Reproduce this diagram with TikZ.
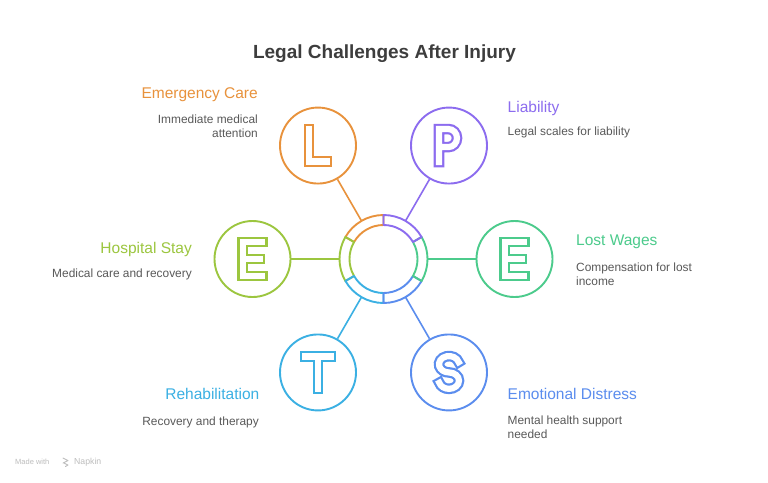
\documentclass[tikz,border=0pt]{standalone}
\usepackage{fontspec}
\setmainfont{Liberation Sans}
\usetikzlibrary{calc}
\definecolor{corange}{HTML}{E8923C}
\definecolor{cpurple}{HTML}{8C6CEF}
\definecolor{cgreen}{HTML}{4CCB8C}
\definecolor{cblue}{HTML}{5B8DEE}
\definecolor{ccyan}{HTML}{3BB0E3}
\definecolor{clime}{HTML}{9CC63F}
\definecolor{textgray}{HTML}{595959}
\definecolor{titlegray}{HTML}{3D3D3D}
\definecolor{footgray}{HTML}{BDBDBD}
\begin{document}
\begin{tikzpicture}[x=1pt,y=-1pt,
  circ/.style={circle, draw=#1, line width=1.9pt, minimum size=76pt, inner sep=0pt, fill=white},
  glyph/.style={draw=#1, double=white, line width=2.2pt, double distance=6.2pt, line cap=rect, line join=miter},
  spoke/.style={draw=#1, line width=1.6pt},
  seg/.style={draw=#1, line width=1.9pt, line join=round},
  head/.style={text=#1, font=\fontsize{15.5}{18}\selectfont, inner sep=0pt},
  desc/.style={text=textgray, font=\fontsize{11.9}{14}\selectfont, inner sep=0pt},
]
\fill[white] (0,0) rectangle (768,482);
\useasboundingbox (0,0) rectangle (768,482);

\node[font=\bfseries\fontsize{19}{22}\selectfont, text=titlegray, anchor=base, inner sep=0pt] (title) at (384.5,58.5) {Legal Challenges After Injury};

\coordinate (C) at (383.5,259);
\node[circle, minimum size=88pt, inner sep=0pt, outer sep=0pt] (ring) at (C) {};

\node[circ=corange] (L) at ($(C)+(-120:131)$) {};
\node[circ=cpurple] (P) at ($(C)+(-60:131)$) {};
\node[circ=cgreen] (ER) at ($(C)+(0:131)$) {};
\node[circ=cblue] (S) at ($(C)+(60:131)$) {};
\node[circ=ccyan] (T) at ($(C)+(120:131)$) {};
\node[circ=clime] (EL) at ($(C)+(180:131)$) {};

\draw[spoke=corange] (ring) -- (L);
\draw[spoke=cpurple] (ring) -- (P);
\draw[spoke=cgreen] (ring) -- (ER);
\draw[spoke=cblue] (ring) -- (S);
\draw[spoke=ccyan] (ring) -- (T);
\draw[spoke=clime] (ring) -- (EL);

\foreach \a/\b/\c in {-150/-90/corange, 150/210/clime, 90/150/ccyan, 30/90/cblue, -30/30/cgreen, -90/-30/cpurple}
  \draw[seg=\c, shift={(C)}] (\a:44) arc[start angle=\a, end angle=\b, radius=44] -- (\b:34) arc[start angle=\b, end angle=\a, radius=34] -- cycle;

% letters
\begin{scope}[shift={(L.center)}]
  \draw[glyph=corange] (-9,-16) -- (-9,16) -- (9,16);
\end{scope}
\begin{scope}[shift={(P.center)}]
  \draw[glyph=cpurple] (-10,16.5) -- (-10,-16.5) -- (-0.5,-16.5) arc[start angle=-90, end angle=90, x radius=8.5, y radius=9] -- (-10,1.5);
\end{scope}
\begin{scope}[shift={(ER.center)}]
  \draw[glyph=cgreen] (9.8,-17) -- (-9.8,-17) -- (-9.8,17) -- (9.8,17) (-9.8,0) -- (7.2,0);
\end{scope}
\begin{scope}[shift={(EL.center)}]
  \draw[glyph=clime] (9.8,-17) -- (-9.8,-17) -- (-9.8,17) -- (9.8,17) (-9.8,0) -- (7.2,0);
\end{scope}
\begin{scope}[shift={(T.center)}]
  \draw[glyph=ccyan] (-13,-16) -- (13,-16) (0,-16) -- (0,16);
\end{scope}
\begin{scope}[shift={(S.center)}]
  \draw[glyph=cblue] ($(0,-8.2)+(-15:10 and 8.2)$) arc[start angle=-15, end angle=-270, x radius=10, y radius=8.2] arc[start angle=-90, end angle=165, x radius=10, y radius=8.2];
\end{scope}

% texts
\node[head=corange, anchor=base east] (h1) at (258,98) {Emergency Care};
\node[desc, anchor=north east, align=right] (d1) at (258,115) {Immediate medical\\attention};
\node[head=cpurple, anchor=base west] (h2) at (507.5,112.5) {Liability};
\node[desc, anchor=north west, align=left] (d2) at (507.5,126.5) {Legal scales for liability};
\node[head=clime, anchor=base east] (h3) at (192,253) {Hospital Stay};
\node[desc, anchor=north east, align=right] (d3) at (192,268.5) {Medical care and recovery};
\node[head=cgreen, anchor=base west] (h4) at (576,245.5) {Lost Wages};
\node[desc, anchor=north west, align=left] (d4) at (576,262.5) {Compensation for lost\\income};
\node[head=ccyan, anchor=base east] (h5) at (259.5,399) {Rehabilitation};
\node[desc, anchor=north east, align=right] (d5) at (259,416.5) {Recovery and therapy};
\node[head=cblue, anchor=base west] (h6) at (507.5,399) {Emotional Distress};
\node[desc, anchor=north west, align=left] (d6) at (507.5,416) {Mental health support\\needed};

% footer
\node[anchor=base west, text=footgray, font=\fontsize{7.5}{9}\selectfont, inner sep=0pt] (mw) at (15,464.5) {Made with};
\node[anchor=base west, text=footgray, font=\fontsize{8.7}{10}\selectfont, inner sep=0pt] (np) at (74,464.5) {Napkin};
\draw[footgray, line width=0.9pt, line cap=round, line join=round] (63,458) -- (68,460.5) -- (63,463) (64,463) -- (68,465) -- (65.5,466.5);
\end{tikzpicture}
\end{document}
